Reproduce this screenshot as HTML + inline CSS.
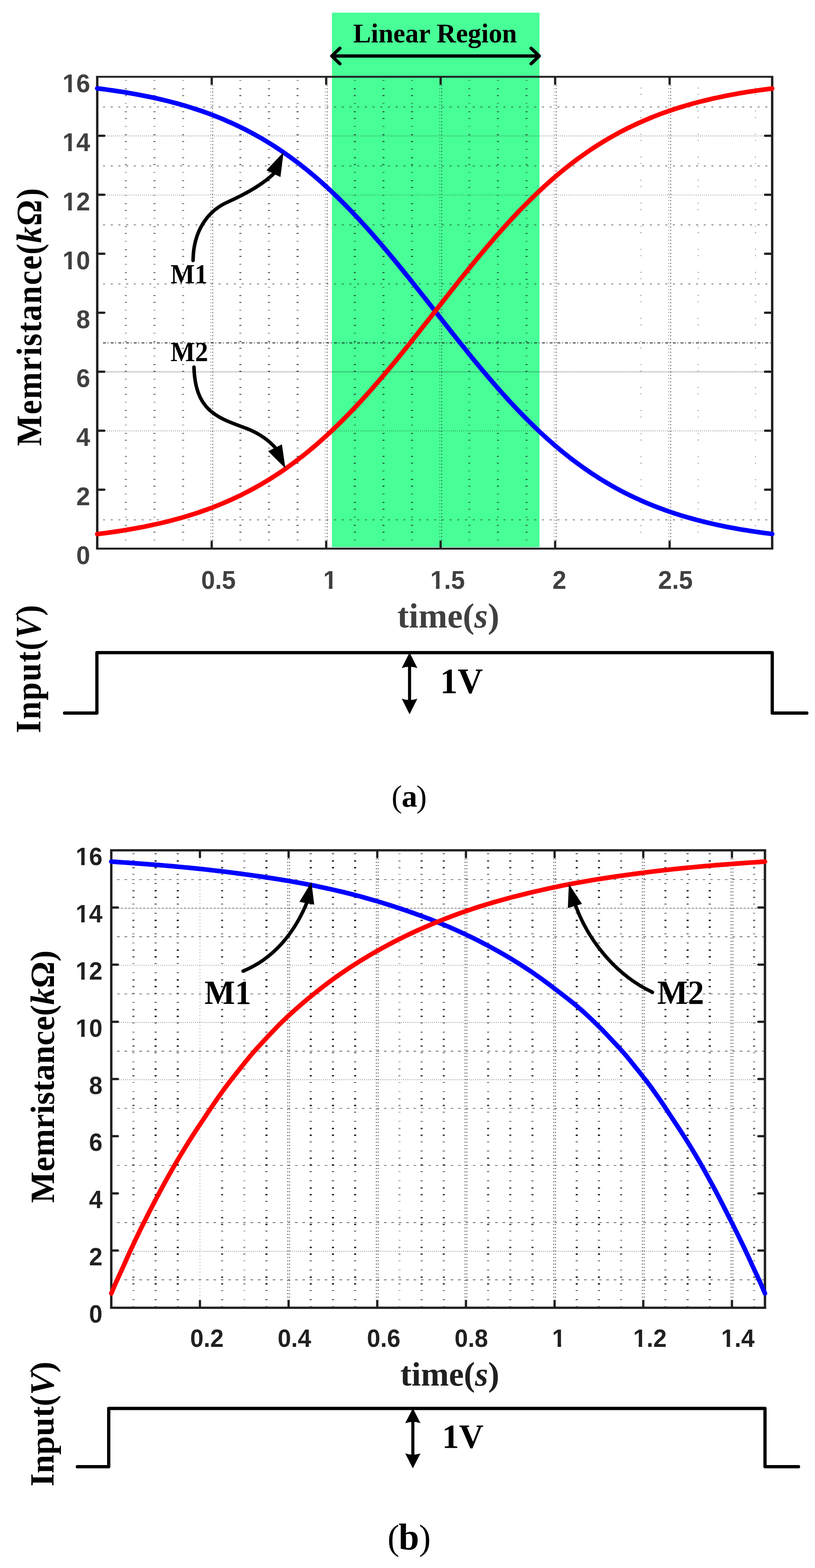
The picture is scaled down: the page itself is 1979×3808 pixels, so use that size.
<!DOCTYPE html>
<html lang="en"><head><meta charset="utf-8"><title>Memristance versus time</title>
<style>html,body{margin:0;padding:0;background:#fff}body{width:1979px;height:3808px;overflow:hidden}svg{display:block}text{white-space:pre}</style>
</head><body>
<svg width="1979" height="3808" viewBox="0 0 1979 3808" role="img" aria-label="Memristance of M1 and M2 versus time for two window functions">
<rect x="0" y="0" width="1979" height="3808" fill="#fff"/>
<!-- plot a -->
<rect x="806" y="30.8" width="504.0" height="1298.0" fill="#47ff96"/>
<g>
<line x1="305.6" y1="194.5" x2="305.6" y2="1329.4" stroke="#1a1a1a" stroke-width="5.0" stroke-dasharray="2.3 14.2 2.3 17.2 1.3 18.5" stroke-dashoffset="-20.0" opacity="0.62"/>
<line x1="375.1" y1="194.5" x2="375.1" y2="1329.4" stroke="#1a1a1a" stroke-width="5.0" stroke-dasharray="2.3 14.2 2.3 17.2 1.3 18.5" stroke-dashoffset="-20.0" opacity="0.68"/>
<line x1="444.6" y1="194.5" x2="444.6" y2="1329.4" stroke="#1a1a1a" stroke-width="5.0" stroke-dasharray="2.3 14.2 2.3 17.2 1.3 18.5" stroke-dashoffset="-20.0" opacity="0.62"/>
<line x1="511.7" y1="206.5" x2="511.7" y2="1314.4" stroke="#222" stroke-width="1.6" stroke-dasharray="1.5 6.5" opacity="0.8"/>
<line x1="516.5" y1="206.5" x2="516.5" y2="1314.4" stroke="#222" stroke-width="2.6" stroke-dasharray="2 6" opacity="0.8"/>
<line x1="583.6" y1="194.5" x2="583.6" y2="1329.4" stroke="#1a1a1a" stroke-width="5.0" stroke-dasharray="2.3 14.2 2.3 17.2 1.3 18.5" stroke-dashoffset="-20.0" opacity="0.78"/>
<line x1="653.1" y1="194.5" x2="653.1" y2="1329.4" stroke="#1a1a1a" stroke-width="5.0" stroke-dasharray="2.3 14.2 2.3 17.2 1.3 18.5" stroke-dashoffset="-20.0" opacity="0.78"/>
<line x1="722.6" y1="194.5" x2="722.6" y2="1329.4" stroke="#1a1a1a" stroke-width="5.0" stroke-dasharray="2.3 14.2 2.3 17.2 1.3 18.5" stroke-dashoffset="-20.0" opacity="0.82"/>
<line x1="789.7" y1="206.5" x2="789.7" y2="1314.4" stroke="#222" stroke-width="1.6" stroke-dasharray="1.5 6.5" opacity="0.8"/>
<line x1="794.5" y1="206.5" x2="794.5" y2="1314.4" stroke="#222" stroke-width="2.6" stroke-dasharray="2 6" opacity="0.8"/>
<line x1="861.6" y1="194.5" x2="861.6" y2="1329.4" stroke="#1a1a1a" stroke-width="5.0" stroke-dasharray="2.3 14.2 2.3 17.2 1.3 18.5" stroke-dashoffset="-20.0" opacity="0.8"/>
<line x1="931.1" y1="194.5" x2="931.1" y2="1329.4" stroke="#1a1a1a" stroke-width="5.0" stroke-dasharray="2.3 14.2 2.3 17.2 1.3 18.5" stroke-dashoffset="-20.0" opacity="0.8"/>
<line x1="1000.5" y1="194.5" x2="1000.5" y2="1329.4" stroke="#1a1a1a" stroke-width="5.0" stroke-dasharray="2.3 14.2 2.3 17.2 1.3 18.5" stroke-dashoffset="-20.0" opacity="0.8"/>
<line x1="1067.6" y1="206.5" x2="1067.6" y2="1314.4" stroke="#222" stroke-width="1.6" stroke-dasharray="1.5 6.5" opacity="0.8"/>
<line x1="1072.4" y1="206.5" x2="1072.4" y2="1314.4" stroke="#222" stroke-width="2.6" stroke-dasharray="2 6" opacity="0.8"/>
<line x1="1139.5" y1="194.5" x2="1139.5" y2="1329.4" stroke="#1a1a1a" stroke-width="5.0" stroke-dasharray="2.3 14.2 2.3 17.2 1.3 18.5" stroke-dashoffset="-20.0" opacity="0.6"/>
<line x1="1209.0" y1="194.5" x2="1209.0" y2="1329.4" stroke="#1a1a1a" stroke-width="5.0" stroke-dasharray="2.3 14.2 2.3 17.2 1.3 18.5" stroke-dashoffset="-20.0" opacity="0.7"/>
<line x1="1278.5" y1="194.5" x2="1278.5" y2="1329.4" stroke="#1a1a1a" stroke-width="5.0" stroke-dasharray="2.3 14.2 2.3 17.2 1.3 18.5" stroke-dashoffset="-20.0" opacity="0.7"/>
<line x1="1345.6" y1="206.5" x2="1345.6" y2="1314.4" stroke="#222" stroke-width="1.6" stroke-dasharray="1.5 6.5" opacity="0.8"/>
<line x1="1350.4" y1="206.5" x2="1350.4" y2="1314.4" stroke="#222" stroke-width="2.6" stroke-dasharray="2 6" opacity="0.8"/>
<line x1="1556.5" y1="194.5" x2="1556.5" y2="1329.4" stroke="#1a1a1a" stroke-width="2.2" stroke-dasharray="1.6 14 1.6 38.75" stroke-dashoffset="-18.5" opacity="0.7"/>
<line x1="1623.6" y1="206.5" x2="1623.6" y2="1314.4" stroke="#222" stroke-width="1.6" stroke-dasharray="1.5 6.5" opacity="0.8"/>
<line x1="1628.4" y1="206.5" x2="1628.4" y2="1314.4" stroke="#222" stroke-width="2.6" stroke-dasharray="2 6" opacity="0.8"/>
<line x1="1695.5" y1="194.5" x2="1695.5" y2="1329.4" stroke="#1a1a1a" stroke-width="2.2" stroke-dasharray="1.6 14 1.6 38.75" stroke-dashoffset="-18.5" opacity="0.7"/>
<line x1="1834.5" y1="194.5" x2="1834.5" y2="1329.4" stroke="#1a1a1a" stroke-width="2.2" stroke-dasharray="1.6 14 1.6 38.75" stroke-dashoffset="-18.5" opacity="0.7"/>
<line x1="250.1" y1="259.8" x2="1872.0" y2="259.8" stroke="#1a1a1a" stroke-width="1.4" stroke-dasharray="5 13.7" stroke-dashoffset="0" opacity="0.8"/>
<line x1="250.1" y1="330.3" x2="1872.0" y2="330.3" stroke="#1a1a1a" stroke-width="1.4" stroke-dasharray="1.5 3.5" stroke-dashoffset="0" opacity="0.8"/>
<line x1="250.1" y1="403.0" x2="1872.0" y2="403.0" stroke="#1a1a1a" stroke-width="1.4" stroke-dasharray="5 13.7" stroke-dashoffset="0" opacity="0.8"/>
<line x1="250.1" y1="473.6" x2="1872.0" y2="473.6" stroke="#1a1a1a" stroke-width="1.4" stroke-dasharray="1.5 3.5" stroke-dashoffset="0" opacity="0.8"/>
<line x1="250.1" y1="546.3" x2="1872.0" y2="546.3" stroke="#1a1a1a" stroke-width="1.4" stroke-dasharray="5 13.7" stroke-dashoffset="0" opacity="0.8"/>
<line x1="250.1" y1="689.5" x2="1872.0" y2="689.5" stroke="#1a1a1a" stroke-width="1.4" stroke-dasharray="5 13.7" stroke-dashoffset="0" opacity="0.8"/>
<line x1="250.1" y1="832.8" x2="1872.0" y2="832.8" stroke="#1a1a1a" stroke-width="2.0" stroke-dasharray="7 4 2 5.7" stroke-dashoffset="0" opacity="1.0"/>
<line x1="250.1" y1="903.3" x2="1872.0" y2="903.3" stroke="#1a1a1a" stroke-width="1.6" stroke-dasharray="2 2" stroke-dashoffset="0" opacity="0.8"/>
<line x1="250.1" y1="1046.5" x2="1872.0" y2="1046.5" stroke="#1a1a1a" stroke-width="1.4" stroke-dasharray="1.5 3.5" stroke-dashoffset="0" opacity="0.8"/>
<line x1="250.1" y1="1262.5" x2="1872.0" y2="1262.5" stroke="#1a1a1a" stroke-width="1.4" stroke-dasharray="5 13.7" stroke-dashoffset="0" opacity="0.8"/>
</g>
<g stroke="#202020" fill="none" stroke-linecap="butt">
<line x1="233.2" y1="186.5" x2="1877.9" y2="186.5" stroke-width="4.7"/>
<line x1="233.2" y1="1332.4" x2="1877.9" y2="1332.4" stroke-width="4.7"/>
<line x1="236.1" y1="186.5" x2="236.1" y2="1332.4" stroke-width="5.8"/>
<line x1="1875.0" y1="186.5" x2="1875.0" y2="1332.4" stroke-width="5.8"/>
</g>
<g stroke="#202020" stroke-width="5.5" stroke-linecap="round">
<line x1="514.1" y1="1331.1" x2="514.1" y2="1315.4"/>
<line x1="514.1" y1="187.8" x2="514.1" y2="203.5"/>
<line x1="792.1" y1="1331.1" x2="792.1" y2="1315.4"/>
<line x1="792.1" y1="187.8" x2="792.1" y2="203.5"/>
<line x1="1070.0" y1="1331.1" x2="1070.0" y2="1315.4"/>
<line x1="1070.0" y1="187.8" x2="1070.0" y2="203.5"/>
<line x1="1348.0" y1="1331.1" x2="1348.0" y2="1315.4"/>
<line x1="1348.0" y1="187.8" x2="1348.0" y2="203.5"/>
<line x1="1626.0" y1="1331.1" x2="1626.0" y2="1315.4"/>
<line x1="1626.0" y1="187.8" x2="1626.0" y2="203.5"/>
<line x1="237.4" y1="1189.2" x2="253.3" y2="1189.2"/>
<line x1="1873.7" y1="1189.2" x2="1857.8" y2="1189.2"/>
<line x1="237.4" y1="1045.9" x2="253.3" y2="1045.9"/>
<line x1="1873.7" y1="1045.9" x2="1857.8" y2="1045.9"/>
<line x1="237.4" y1="902.7" x2="253.3" y2="902.7"/>
<line x1="1873.7" y1="902.7" x2="1857.8" y2="902.7"/>
<line x1="237.4" y1="759.4" x2="253.3" y2="759.4"/>
<line x1="1873.7" y1="759.4" x2="1857.8" y2="759.4"/>
<line x1="237.4" y1="616.2" x2="253.3" y2="616.2"/>
<line x1="1873.7" y1="616.2" x2="1857.8" y2="616.2"/>
<line x1="237.4" y1="473.0" x2="253.3" y2="473.0"/>
<line x1="1873.7" y1="473.0" x2="1857.8" y2="473.0"/>
<line x1="237.4" y1="329.7" x2="253.3" y2="329.7"/>
<line x1="1873.7" y1="329.7" x2="1857.8" y2="329.7"/>
</g>
<path d="M236.1 214.6 L246.3 215.9 L256.6 217.3 L266.8 218.7 L277.1 220.1 L287.3 221.7 L297.6 223.3 L307.8 224.9 L318.0 226.7 L328.3 228.5 L338.5 230.4 L348.8 232.4 L359.0 234.4 L369.3 236.6 L379.5 238.8 L389.7 241.2 L400.0 243.6 L410.2 246.1 L420.5 248.8 L430.7 251.5 L441.0 254.4 L451.2 257.4 L461.4 260.5 L471.7 263.8 L481.9 267.1 L492.2 270.6 L502.4 274.3 L512.7 278.1 L522.9 282.0 L533.2 286.1 L543.4 290.3 L553.6 294.8 L563.9 299.3 L574.1 304.1 L584.4 309.0 L594.6 314.1 L604.9 319.4 L615.1 324.9 L625.3 330.6 L635.6 336.4 L645.8 342.5 L656.1 348.8 L666.3 355.3 L676.6 362.0 L686.8 368.9 L697.0 376.1 L707.3 383.4 L717.5 391.0 L727.8 398.8 L738.0 406.9 L748.3 415.1 L758.5 423.6 L768.7 432.3 L779.0 441.3 L789.2 450.5 L799.5 459.9 L809.7 469.6 L820.0 479.4 L830.2 489.5 L840.4 499.8 L850.7 510.4 L860.9 521.1 L871.2 532.0 L881.4 543.2 L891.7 554.5 L901.9 566.0 L912.1 577.7 L922.4 589.6 L932.6 601.6 L942.9 613.8 L953.1 626.1 L963.4 638.6 L973.6 651.1 L983.8 663.8 L994.1 676.6 L1004.3 689.4 L1014.6 702.3 L1024.8 715.3 L1035.1 728.3 L1045.3 741.3 L1055.6 754.4 L1065.8 767.5 L1076.0 780.5 L1086.3 793.5 L1096.5 806.5 L1106.8 819.4 L1117.0 832.3 L1127.3 845.1 L1137.5 857.8 L1147.7 870.4 L1158.0 882.8 L1168.2 895.2 L1178.5 907.4 L1188.7 919.4 L1199.0 931.3 L1209.2 943.1 L1219.4 954.6 L1229.7 966.0 L1239.9 977.2 L1250.2 988.2 L1260.4 999.0 L1270.7 1009.5 L1280.9 1019.9 L1291.1 1030.0 L1301.4 1040.0 L1311.6 1049.7 L1321.9 1059.1 L1332.1 1068.4 L1342.4 1077.4 L1352.6 1086.2 L1362.8 1094.7 L1373.1 1103.0 L1383.3 1111.1 L1393.6 1119.0 L1403.8 1126.6 L1414.1 1134.0 L1424.3 1141.2 L1434.5 1148.2 L1444.8 1154.9 L1455.0 1161.5 L1465.3 1167.8 L1475.5 1173.9 L1485.8 1179.8 L1496.0 1185.6 L1506.2 1191.1 L1516.5 1196.4 L1526.7 1201.6 L1537.0 1206.5 L1547.2 1211.3 L1557.5 1215.9 L1567.7 1220.4 L1577.9 1224.7 L1588.2 1228.8 L1598.4 1232.8 L1608.7 1236.6 L1618.9 1240.3 L1629.2 1243.8 L1639.4 1247.2 L1649.7 1250.5 L1659.9 1253.6 L1670.1 1256.6 L1680.4 1259.5 L1690.6 1262.3 L1700.9 1265.0 L1711.1 1267.6 L1721.4 1270.0 L1731.6 1272.4 L1741.8 1274.7 L1752.1 1276.8 L1762.3 1278.9 L1772.6 1280.9 L1782.8 1282.8 L1793.1 1284.7 L1803.3 1286.4 L1813.5 1288.1 L1823.8 1289.7 L1834.0 1291.3 L1844.3 1292.7 L1854.5 1294.2 L1864.8 1295.5 L1875.0 1296.8" fill="none" stroke="#0000ff" stroke-width="11.2" stroke-linecap="round" stroke-linejoin="round"/>
<path d="M236.1 1297.1 L246.3 1295.8 L256.6 1294.5 L266.8 1293.1 L277.1 1291.6 L287.3 1290.1 L297.6 1288.5 L307.8 1286.8 L318.0 1285.1 L328.3 1283.2 L338.5 1281.3 L348.8 1279.4 L359.0 1277.3 L369.3 1275.1 L379.5 1272.9 L389.7 1270.6 L400.0 1268.1 L410.2 1265.6 L420.5 1262.9 L430.7 1260.2 L441.0 1257.3 L451.2 1254.3 L461.4 1251.2 L471.7 1248.0 L481.9 1244.6 L492.2 1241.1 L502.4 1237.4 L512.7 1233.7 L522.9 1229.7 L533.2 1225.6 L543.4 1221.4 L553.6 1217.0 L563.9 1212.4 L574.1 1207.6 L584.4 1202.7 L594.6 1197.6 L604.9 1192.3 L615.1 1186.8 L625.3 1181.1 L635.6 1175.3 L645.8 1169.2 L656.1 1162.9 L666.3 1156.4 L676.6 1149.7 L686.8 1142.8 L697.0 1135.7 L707.3 1128.3 L717.5 1120.7 L727.8 1112.9 L738.0 1104.9 L748.3 1096.6 L758.5 1088.1 L768.7 1079.4 L779.0 1070.4 L789.2 1061.2 L799.5 1051.8 L809.7 1042.2 L820.0 1032.3 L830.2 1022.2 L840.4 1011.9 L850.7 1001.4 L860.9 990.6 L871.2 979.7 L881.4 968.5 L891.7 957.2 L901.9 945.7 L912.1 934.0 L922.4 922.1 L932.6 910.1 L942.9 897.9 L953.1 885.6 L963.4 873.2 L973.6 860.6 L983.8 847.9 L994.1 835.2 L1004.3 822.3 L1014.6 809.4 L1024.8 796.4 L1035.1 783.4 L1045.3 770.4 L1055.6 757.3 L1065.8 744.3 L1076.0 731.2 L1086.3 718.2 L1096.5 705.2 L1106.8 692.3 L1117.0 679.4 L1127.3 666.6 L1137.5 653.9 L1147.7 641.4 L1158.0 628.9 L1168.2 616.5 L1178.5 604.3 L1188.7 592.3 L1199.0 580.4 L1209.2 568.6 L1219.4 557.1 L1229.7 545.7 L1239.9 534.5 L1250.2 523.5 L1260.4 512.7 L1270.7 502.2 L1280.9 491.8 L1291.1 481.7 L1301.4 471.8 L1311.6 462.1 L1321.9 452.6 L1332.1 443.3 L1342.4 434.3 L1352.6 425.6 L1362.8 417.0 L1373.1 408.7 L1383.3 400.6 L1393.6 392.7 L1403.8 385.1 L1414.1 377.7 L1424.3 370.5 L1434.5 363.5 L1444.8 356.8 L1455.0 350.2 L1465.3 343.9 L1475.5 337.8 L1485.8 331.9 L1496.0 326.2 L1506.2 320.6 L1516.5 315.3 L1526.7 310.1 L1537.0 305.2 L1547.2 300.4 L1557.5 295.8 L1567.7 291.3 L1577.9 287.0 L1588.2 282.9 L1598.4 278.9 L1608.7 275.1 L1618.9 271.4 L1629.2 267.9 L1639.4 264.5 L1649.7 261.2 L1659.9 258.1 L1670.1 255.1 L1680.4 252.2 L1690.6 249.4 L1700.9 246.7 L1711.1 244.2 L1721.4 241.7 L1731.6 239.3 L1741.8 237.1 L1752.1 234.9 L1762.3 232.8 L1772.6 230.8 L1782.8 228.9 L1793.1 227.1 L1803.3 225.3 L1813.5 223.6 L1823.8 222.0 L1834.0 220.5 L1844.3 219.0 L1854.5 217.6 L1864.8 216.2 L1875.0 214.9" fill="none" stroke="#ff0000" stroke-width="11.2" stroke-linecap="round" stroke-linejoin="round"/>
<text transform="translate(219.0 1369.9) scale(1 1.04)" font-family='"Liberation Sans", Arial, Helvetica, sans-serif' font-size="60.5" font-weight="bold" fill="#404040" text-anchor="end" >0</text>
<text transform="translate(219.0 1226.7) scale(1 1.04)" font-family='"Liberation Sans", Arial, Helvetica, sans-serif' font-size="60.5" font-weight="bold" fill="#404040" text-anchor="end" >2</text>
<text transform="translate(219.0 1083.4) scale(1 1.04)" font-family='"Liberation Sans", Arial, Helvetica, sans-serif' font-size="60.5" font-weight="bold" fill="#404040" text-anchor="end" >4</text>
<text transform="translate(219.0 940.2) scale(1 1.04)" font-family='"Liberation Sans", Arial, Helvetica, sans-serif' font-size="60.5" font-weight="bold" fill="#404040" text-anchor="end" >6</text>
<text transform="translate(219.0 796.9) scale(1 1.04)" font-family='"Liberation Sans", Arial, Helvetica, sans-serif' font-size="60.5" font-weight="bold" fill="#404040" text-anchor="end" >8</text>
<clipPath id="c1" clipPathUnits="userSpaceOnUse"><path d="M-71.29 -60.50 H4.00 V6.00 H-34.53 V-8.17 H-44.70 V6.00 H-53.41 V-8.17 H-71.29 Z"/></clipPath>
<text transform="translate(219.0 653.7) scale(1 1.04)" font-family='"Liberation Sans", Arial, Helvetica, sans-serif' font-size="60.5" font-weight="bold" fill="#404040" text-anchor="end" clip-path="url(#c1)">10</text>
<clipPath id="c2" clipPathUnits="userSpaceOnUse"><path d="M-71.29 -60.50 H4.00 V6.00 H-34.53 V-8.17 H-44.70 V6.00 H-53.41 V-8.17 H-71.29 Z"/></clipPath>
<text transform="translate(219.0 510.5) scale(1 1.04)" font-family='"Liberation Sans", Arial, Helvetica, sans-serif' font-size="60.5" font-weight="bold" fill="#404040" text-anchor="end" clip-path="url(#c2)">12</text>
<clipPath id="c3" clipPathUnits="userSpaceOnUse"><path d="M-71.29 -60.50 H4.00 V6.00 H-34.53 V-8.17 H-44.70 V6.00 H-53.41 V-8.17 H-71.29 Z"/></clipPath>
<text transform="translate(219.0 367.2) scale(1 1.04)" font-family='"Liberation Sans", Arial, Helvetica, sans-serif' font-size="60.5" font-weight="bold" fill="#404040" text-anchor="end" clip-path="url(#c3)">14</text>
<clipPath id="c4" clipPathUnits="userSpaceOnUse"><path d="M-71.29 -60.50 H4.00 V6.00 H-34.53 V-8.17 H-44.70 V6.00 H-53.41 V-8.17 H-71.29 Z"/></clipPath>
<text transform="translate(219.0 224.0) scale(1 1.04)" font-family='"Liberation Sans", Arial, Helvetica, sans-serif' font-size="60.5" font-weight="bold" fill="#404040" text-anchor="end" clip-path="url(#c4)">16</text>
<text transform="translate(488.4 1429.8) scale(1 1.04)" font-family='"Liberation Sans", Arial, Helvetica, sans-serif' font-size="60.5" font-weight="bold" fill="#404040" text-anchor="start" >0.5</text>
<clipPath id="c5" clipPathUnits="userSpaceOnUse"><path d="M-4.00 -60.50 H37.65 V6.00 H32.76 V-8.17 H22.60 V6.00 H13.88 V-8.17 H-4.00 Z"/></clipPath>
<text transform="translate(784.7 1429.8) scale(1 1.04)" font-family='"Liberation Sans", Arial, Helvetica, sans-serif' font-size="60.5" font-weight="bold" fill="#404040" text-anchor="start" clip-path="url(#c5)">1</text>
<clipPath id="c6" clipPathUnits="userSpaceOnUse"><path d="M-4.00 -60.50 H88.10 V6.00 H32.76 V-8.17 H22.60 V6.00 H13.88 V-8.17 H-4.00 Z"/></clipPath>
<text transform="translate(1044.7 1429.8) scale(1 1.04)" font-family='"Liberation Sans", Arial, Helvetica, sans-serif' font-size="60.5" font-weight="bold" fill="#404040" text-anchor="start" clip-path="url(#c6)">1.5</text>
<text transform="translate(1341.5 1429.8) scale(1 1.04)" font-family='"Liberation Sans", Arial, Helvetica, sans-serif' font-size="60.5" font-weight="bold" fill="#404040" text-anchor="start" >2</text>
<text transform="translate(1598.1 1429.8) scale(1 1.04)" font-family='"Liberation Sans", Arial, Helvetica, sans-serif' font-size="60.5" font-weight="bold" fill="#404040" text-anchor="start" >2.5</text>
<text transform="translate(964.8 1523.7) scale(1 1.011)" font-family='"Liberation Serif", "Times New Roman", Times, serif' font-size="84.2" font-weight="bold" fill="#404040" text-anchor="start" >time(<tspan font-style="italic">s</tspan>)</text>
<text transform="translate(99.8 1083.0) rotate(-90) scale(0.93 1.011)" font-family='"Liberation Serif", "Times New Roman", Times, serif' font-size="85" font-weight="bold" fill="#000" text-anchor="start" letter-spacing="2.1" >Memristance(<tspan font-style="italic">k</tspan>Ω)</text>
<text transform="translate(97.8 1780.5) rotate(-90) scale(0.93 1.011)" font-family='"Liberation Serif", "Times New Roman", Times, serif' font-size="85" font-weight="bold" fill="#000" text-anchor="start" letter-spacing="2.6" >Input(<tspan font-style="italic">V</tspan>)</text>
<text transform="translate(857.5 102.5) scale(1 1.02)" font-family='"Liberation Serif", "Times New Roman", Times, serif' font-size="65" font-weight="bold" fill="#000" text-anchor="start" >Linear Region</text>
<g stroke="#000" stroke-width="8" fill="none" stroke-linecap="round" stroke-linejoin="round">
<path d="M806 136 H1309"/>
<path d="M825.3 117.2 L805.8 136 L825.3 154.8"/>
<path d="M1289.7 117.2 L1309.2 136 L1289.7 154.8"/>
</g>
<text transform="translate(414.0 688.3) scale(0.93 1.011)" font-family='"Liberation Serif", "Times New Roman", Times, serif' font-size="67" font-weight="bold" fill="#000" text-anchor="start" >M1</text>
<text transform="translate(414.0 877.1) scale(0.96 1.011)" font-family='"Liberation Serif", "Times New Roman", Times, serif' font-size="66" font-weight="bold" fill="#000" text-anchor="start" >M2</text>
<path d="M468.8 632.5 C469.5 560 505 512 553 490.6 C593 472.8 640 447 667 419.5" fill="none" stroke="#000" stroke-width="8.6" stroke-linecap="round"/>
<polygon points="688.5,369.3 647.0,413.5 681.0,430.0" fill="#000"/>
<path d="M471 891.5 C474 1000 530 1015 600 1041 C630 1053 652 1068 671 1090" fill="none" stroke="#000" stroke-width="8.6" stroke-linecap="round"/>
<polygon points="693.0,1137.6 651.0,1095.8 684.6,1079.3" fill="#000"/>
<path d="M156.8 1731.8 H235.3 V1585 H1875.2 V1731.8 H1959.2" fill="none" stroke="#000" stroke-width="7.9" stroke-linecap="round" stroke-linejoin="round"/>
<line x1="994.5" y1="1594.5" x2="994.5" y2="1724.8" stroke="#000" stroke-width="7.5"/>
<path d="M994.5 1584.5 L1013.5 1622.5 Q1004.0 1619.0 994.5 1619.0 Q985.0 1619.0 975.5 1622.5 Z" fill="#000"/>
<path d="M994.5 1734.8 L1013.5 1696.8 Q1004.0 1700.3 994.5 1700.3 Q985.0 1700.3 975.5 1696.8 Z" fill="#000"/>
<text transform="translate(1068.8 1682.8) scale(1 1.011)" font-family='"Liberation Serif", "Times New Roman", Times, serif' font-size="85" font-weight="bold" fill="#000" text-anchor="start" >1V</text>
<text font-family='"Liberation Serif", "Times New Roman", Times, serif' fill="#000"><tspan x="950.7" y="1959.8" font-size="76.2">(</tspan><tspan x="975.3" y="1959.3" font-size="76" font-weight="bold">a</tspan><tspan x="1010.9" y="1959.8" font-size="76.2">)</tspan></text>
<!-- plot b -->
<g>
<line x1="324.0" y1="2089.2" x2="324.0" y2="3172.9" stroke="#1a1a1a" stroke-width="5" stroke-dasharray="3.4 12.9 3.4 52.5" opacity="0.7"/>
<line x1="324.0" y1="2072.6" x2="324.0" y2="3172.9" stroke="#1a1a1a" stroke-width="5.4" stroke-dasharray="1.6 48.4 1.6 20.6" opacity="0.7"/>
<line x1="377.9" y1="2089.2" x2="377.9" y2="3172.9" stroke="#1a1a1a" stroke-width="5" stroke-dasharray="3.4 12.9 3.4 52.5" opacity="1"/>
<line x1="377.9" y1="2072.6" x2="377.9" y2="3172.9" stroke="#1a1a1a" stroke-width="5.4" stroke-dasharray="1.6 48.4 1.6 20.6" opacity="1"/>
<line x1="431.7" y1="2089.2" x2="431.7" y2="3172.9" stroke="#1a1a1a" stroke-width="5" stroke-dasharray="3.4 12.9 3.4 52.5" opacity="1"/>
<line x1="431.7" y1="2072.6" x2="431.7" y2="3172.9" stroke="#1a1a1a" stroke-width="5.4" stroke-dasharray="1.6 48.4 1.6 20.6" opacity="1"/>
<line x1="485.5" y1="2073.0" x2="485.5" y2="3172.9" stroke="#333" stroke-width="1.6" stroke-dasharray="1.5 6.5" stroke-dashoffset="0" opacity="0.7"/>
<line x1="539.3" y1="2089.2" x2="539.3" y2="3172.9" stroke="#1a1a1a" stroke-width="5" stroke-dasharray="3.4 12.9 3.4 52.5" opacity="0.85"/>
<line x1="539.3" y1="2072.6" x2="539.3" y2="3172.9" stroke="#1a1a1a" stroke-width="5.4" stroke-dasharray="1.6 48.4 1.6 20.6" opacity="0.85"/>
<line x1="593.2" y1="2089.2" x2="593.2" y2="3172.9" stroke="#1a1a1a" stroke-width="5" stroke-dasharray="3.4 12.9 3.4 52.5" opacity="0.45"/>
<line x1="593.2" y1="2072.6" x2="593.2" y2="3172.9" stroke="#1a1a1a" stroke-width="5.4" stroke-dasharray="1.6 48.4 1.6 20.6" opacity="0.45"/>
<line x1="647.0" y1="2089.2" x2="647.0" y2="3172.9" stroke="#1a1a1a" stroke-width="5" stroke-dasharray="3.4 12.9 3.4 52.5" opacity="1"/>
<line x1="647.0" y1="2072.6" x2="647.0" y2="3172.9" stroke="#1a1a1a" stroke-width="5.4" stroke-dasharray="1.6 48.4 1.6 20.6" opacity="1"/>
<line x1="698.6" y1="2085.0" x2="698.6" y2="3157.9" stroke="#222" stroke-width="2.4" stroke-dasharray="2 6" opacity="0.85"/>
<line x1="703.0" y1="2085.0" x2="703.0" y2="3157.9" stroke="#222" stroke-width="2.4" stroke-dasharray="2 6" opacity="0.85"/>
<line x1="754.6" y1="2089.2" x2="754.6" y2="3172.9" stroke="#1a1a1a" stroke-width="5" stroke-dasharray="3.4 12.9 3.4 52.5" opacity="1"/>
<line x1="754.6" y1="2072.6" x2="754.6" y2="3172.9" stroke="#1a1a1a" stroke-width="5.4" stroke-dasharray="1.6 48.4 1.6 20.6" opacity="1"/>
<line x1="808.5" y1="2089.2" x2="808.5" y2="3172.9" stroke="#1a1a1a" stroke-width="5" stroke-dasharray="3.4 12.9 3.4 52.5" opacity="1"/>
<line x1="808.5" y1="2072.6" x2="808.5" y2="3172.9" stroke="#1a1a1a" stroke-width="5.4" stroke-dasharray="1.6 48.4 1.6 20.6" opacity="1"/>
<line x1="862.3" y1="2089.2" x2="862.3" y2="3172.9" stroke="#1a1a1a" stroke-width="5" stroke-dasharray="3.4 12.9 3.4 52.5" opacity="1"/>
<line x1="862.3" y1="2072.6" x2="862.3" y2="3172.9" stroke="#1a1a1a" stroke-width="5.4" stroke-dasharray="1.6 48.4 1.6 20.6" opacity="1"/>
<line x1="913.9" y1="2085.0" x2="913.9" y2="3157.9" stroke="#222" stroke-width="2.4" stroke-dasharray="2 6" opacity="0.85"/>
<line x1="918.3" y1="2085.0" x2="918.3" y2="3157.9" stroke="#222" stroke-width="2.4" stroke-dasharray="2 6" opacity="0.85"/>
<line x1="969.9" y1="2089.2" x2="969.9" y2="3172.9" stroke="#1a1a1a" stroke-width="5" stroke-dasharray="3.4 12.9 3.4 52.5" opacity="0.45"/>
<line x1="969.9" y1="2072.6" x2="969.9" y2="3172.9" stroke="#1a1a1a" stroke-width="5.4" stroke-dasharray="1.6 48.4 1.6 20.6" opacity="0.45"/>
<line x1="1023.8" y1="2089.2" x2="1023.8" y2="3172.9" stroke="#1a1a1a" stroke-width="5" stroke-dasharray="3.4 12.9 3.4 52.5" opacity="0.85"/>
<line x1="1023.8" y1="2072.6" x2="1023.8" y2="3172.9" stroke="#1a1a1a" stroke-width="5.4" stroke-dasharray="1.6 48.4 1.6 20.6" opacity="0.85"/>
<line x1="1077.6" y1="2089.2" x2="1077.6" y2="3172.9" stroke="#1a1a1a" stroke-width="5" stroke-dasharray="3.4 12.9 3.4 52.5" opacity="0.85"/>
<line x1="1077.6" y1="2072.6" x2="1077.6" y2="3172.9" stroke="#1a1a1a" stroke-width="5.4" stroke-dasharray="1.6 48.4 1.6 20.6" opacity="0.85"/>
<line x1="1129.2" y1="2085.0" x2="1129.2" y2="3157.9" stroke="#222" stroke-width="2.4" stroke-dasharray="2 6" opacity="0.85"/>
<line x1="1133.6" y1="2085.0" x2="1133.6" y2="3157.9" stroke="#222" stroke-width="2.4" stroke-dasharray="2 6" opacity="0.85"/>
<line x1="1185.2" y1="2089.2" x2="1185.2" y2="3172.9" stroke="#1a1a1a" stroke-width="5" stroke-dasharray="3.4 12.9 3.4 52.5" opacity="0.85"/>
<line x1="1185.2" y1="2072.6" x2="1185.2" y2="3172.9" stroke="#1a1a1a" stroke-width="5.4" stroke-dasharray="1.6 48.4 1.6 20.6" opacity="0.85"/>
<line x1="1239.0" y1="2089.2" x2="1239.0" y2="3172.9" stroke="#1a1a1a" stroke-width="5" stroke-dasharray="3.4 12.9 3.4 52.5" opacity="0.85"/>
<line x1="1239.0" y1="2072.6" x2="1239.0" y2="3172.9" stroke="#1a1a1a" stroke-width="5.4" stroke-dasharray="1.6 48.4 1.6 20.6" opacity="0.85"/>
<line x1="1292.9" y1="2089.2" x2="1292.9" y2="3172.9" stroke="#1a1a1a" stroke-width="5" stroke-dasharray="3.4 12.9 3.4 52.5" opacity="0.85"/>
<line x1="1292.9" y1="2072.6" x2="1292.9" y2="3172.9" stroke="#1a1a1a" stroke-width="5.4" stroke-dasharray="1.6 48.4 1.6 20.6" opacity="0.85"/>
<line x1="1344.5" y1="2085.0" x2="1344.5" y2="3157.9" stroke="#222" stroke-width="2.4" stroke-dasharray="2 6" opacity="0.85"/>
<line x1="1348.9" y1="2085.0" x2="1348.9" y2="3157.9" stroke="#222" stroke-width="2.4" stroke-dasharray="2 6" opacity="0.85"/>
<line x1="1400.5" y1="2089.2" x2="1400.5" y2="3172.9" stroke="#1a1a1a" stroke-width="5" stroke-dasharray="3.4 12.9 3.4 52.5" opacity="1"/>
<line x1="1400.5" y1="2072.6" x2="1400.5" y2="3172.9" stroke="#1a1a1a" stroke-width="5.4" stroke-dasharray="1.6 48.4 1.6 20.6" opacity="1"/>
<line x1="1454.4" y1="2089.2" x2="1454.4" y2="3172.9" stroke="#1a1a1a" stroke-width="5" stroke-dasharray="3.4 12.9 3.4 52.5" opacity="1"/>
<line x1="1454.4" y1="2072.6" x2="1454.4" y2="3172.9" stroke="#1a1a1a" stroke-width="5.4" stroke-dasharray="1.6 48.4 1.6 20.6" opacity="1"/>
<line x1="1508.2" y1="2089.2" x2="1508.2" y2="3172.9" stroke="#1a1a1a" stroke-width="5" stroke-dasharray="3.4 12.9 3.4 52.5" opacity="0.7"/>
<line x1="1508.2" y1="2072.6" x2="1508.2" y2="3172.9" stroke="#1a1a1a" stroke-width="5.4" stroke-dasharray="1.6 48.4 1.6 20.6" opacity="0.7"/>
<line x1="1559.8" y1="2085.0" x2="1559.8" y2="3157.9" stroke="#222" stroke-width="2.4" stroke-dasharray="2 6" opacity="0.85"/>
<line x1="1564.2" y1="2085.0" x2="1564.2" y2="3157.9" stroke="#222" stroke-width="2.4" stroke-dasharray="2 6" opacity="0.85"/>
<line x1="1615.8" y1="2089.2" x2="1615.8" y2="3172.9" stroke="#1a1a1a" stroke-width="5" stroke-dasharray="3.4 12.9 3.4 52.5" opacity="0.85"/>
<line x1="1615.8" y1="2072.6" x2="1615.8" y2="3172.9" stroke="#1a1a1a" stroke-width="5.4" stroke-dasharray="1.6 48.4 1.6 20.6" opacity="0.85"/>
<line x1="1669.7" y1="2089.2" x2="1669.7" y2="3172.9" stroke="#1a1a1a" stroke-width="5" stroke-dasharray="3.4 12.9 3.4 52.5" opacity="1"/>
<line x1="1669.7" y1="2072.6" x2="1669.7" y2="3172.9" stroke="#1a1a1a" stroke-width="5.4" stroke-dasharray="1.6 48.4 1.6 20.6" opacity="1"/>
<line x1="1723.5" y1="2089.2" x2="1723.5" y2="3172.9" stroke="#1a1a1a" stroke-width="5" stroke-dasharray="3.4 12.9 3.4 52.5" opacity="1"/>
<line x1="1723.5" y1="2072.6" x2="1723.5" y2="3172.9" stroke="#1a1a1a" stroke-width="5.4" stroke-dasharray="1.6 48.4 1.6 20.6" opacity="1"/>
<line x1="1775.1" y1="2085.0" x2="1775.1" y2="3157.9" stroke="#222" stroke-width="2.4" stroke-dasharray="2 6" opacity="0.85"/>
<line x1="1779.5" y1="2085.0" x2="1779.5" y2="3157.9" stroke="#222" stroke-width="2.4" stroke-dasharray="2 6" opacity="0.85"/>
<line x1="1831.1" y1="2089.2" x2="1831.1" y2="3172.9" stroke="#1a1a1a" stroke-width="5" stroke-dasharray="3.4 12.9 3.4 52.5" opacity="0.7"/>
<line x1="1831.1" y1="2072.6" x2="1831.1" y2="3172.9" stroke="#1a1a1a" stroke-width="5.4" stroke-dasharray="1.6 48.4 1.6 20.6" opacity="0.7"/>
<line x1="284.2" y1="2136.1" x2="1854.5" y2="2136.1" stroke="#1a1a1a" stroke-width="1.4" stroke-dasharray="6.5 11.5" stroke-dashoffset="0" opacity="0.85"/>
<line x1="284.2" y1="2205.6" x2="1854.5" y2="2205.6" stroke="#1a1a1a" stroke-width="1.3" stroke-dasharray="6 3" stroke-dashoffset="0" opacity="0.8"/>
<line x1="284.2" y1="2275.0" x2="1854.5" y2="2275.0" stroke="#1a1a1a" stroke-width="1.4" stroke-dasharray="6.5 11.5" stroke-dashoffset="0" opacity="0.85"/>
<line x1="284.2" y1="2344.4" x2="1854.5" y2="2344.4" stroke="#1a1a1a" stroke-width="1.4" stroke-dasharray="1.6 3.4" stroke-dashoffset="0" opacity="0.75"/>
<line x1="284.2" y1="2413.9" x2="1854.5" y2="2413.9" stroke="#1a1a1a" stroke-width="1.4" stroke-dasharray="6.5 11.5" stroke-dashoffset="0" opacity="0.85"/>
<line x1="284.2" y1="2483.3" x2="1854.5" y2="2483.3" stroke="#1a1a1a" stroke-width="1.4" stroke-dasharray="1.6 3.4" stroke-dashoffset="0" opacity="0.75"/>
<line x1="284.2" y1="2552.7" x2="1854.5" y2="2552.7" stroke="#1a1a1a" stroke-width="1.4" stroke-dasharray="6.5 11.5" stroke-dashoffset="0" opacity="0.85"/>
<line x1="284.2" y1="2622.2" x2="1854.5" y2="2622.2" stroke="#1a1a1a" stroke-width="1.4" stroke-dasharray="1.6 3.4" stroke-dashoffset="0" opacity="0.75"/>
<line x1="284.2" y1="2691.6" x2="1854.5" y2="2691.6" stroke="#1a1a1a" stroke-width="1.4" stroke-dasharray="6.5 11.5" stroke-dashoffset="0" opacity="0.85"/>
<line x1="284.2" y1="2830.4" x2="1854.5" y2="2830.4" stroke="#1a1a1a" stroke-width="1.4" stroke-dasharray="6.5 11.5" stroke-dashoffset="0" opacity="0.85"/>
<line x1="284.2" y1="2969.3" x2="1854.5" y2="2969.3" stroke="#1a1a1a" stroke-width="1.4" stroke-dasharray="6.5 11.5" stroke-dashoffset="0" opacity="0.85"/>
<line x1="284.2" y1="3038.7" x2="1854.5" y2="3038.7" stroke="#1a1a1a" stroke-width="1.4" stroke-dasharray="1.6 3.4" stroke-dashoffset="0" opacity="0.75"/>
<line x1="284.2" y1="3108.2" x2="1854.5" y2="3108.2" stroke="#1a1a1a" stroke-width="1.4" stroke-dasharray="6.5 11.5" stroke-dashoffset="0" opacity="0.85"/>
</g>
<g stroke="#202020" fill="none" stroke-linecap="butt">
<line x1="267.3" y1="2065.0" x2="1860.4" y2="2065.0" stroke-width="5.5"/>
<line x1="267.3" y1="3175.9" x2="1860.4" y2="3175.9" stroke-width="5.5"/>
<line x1="270.2" y1="2065.0" x2="270.2" y2="3175.9" stroke-width="5.8"/>
<line x1="1857.5" y1="2065.0" x2="1857.5" y2="3175.9" stroke-width="5.8"/>
</g>
<g stroke="#202020" stroke-width="5.5" stroke-linecap="round">
<line x1="485.5" y1="3174.6" x2="485.5" y2="3159.4"/>
<line x1="485.5" y1="2066.3" x2="485.5" y2="2081.5"/>
<line x1="700.8" y1="3174.6" x2="700.8" y2="3159.4"/>
<line x1="700.8" y1="2066.3" x2="700.8" y2="2081.5"/>
<line x1="916.1" y1="3174.6" x2="916.1" y2="3159.4"/>
<line x1="916.1" y1="2066.3" x2="916.1" y2="2081.5"/>
<line x1="1131.4" y1="3174.6" x2="1131.4" y2="3159.4"/>
<line x1="1131.4" y1="2066.3" x2="1131.4" y2="2081.5"/>
<line x1="1346.7" y1="3174.6" x2="1346.7" y2="3159.4"/>
<line x1="1346.7" y1="2066.3" x2="1346.7" y2="2081.5"/>
<line x1="1562.0" y1="3174.6" x2="1562.0" y2="3159.4"/>
<line x1="1562.0" y1="2066.3" x2="1562.0" y2="2081.5"/>
<line x1="1777.3" y1="3174.6" x2="1777.3" y2="3159.4"/>
<line x1="1777.3" y1="2066.3" x2="1777.3" y2="2081.5"/>
<line x1="271.5" y1="3037.0" x2="286.1" y2="3037.0"/>
<line x1="1856.2" y1="3037.0" x2="1841.6" y2="3037.0"/>
<line x1="271.5" y1="2898.2" x2="286.1" y2="2898.2"/>
<line x1="1856.2" y1="2898.2" x2="1841.6" y2="2898.2"/>
<line x1="271.5" y1="2759.3" x2="286.1" y2="2759.3"/>
<line x1="1856.2" y1="2759.3" x2="1841.6" y2="2759.3"/>
<line x1="271.5" y1="2620.5" x2="286.1" y2="2620.5"/>
<line x1="1856.2" y1="2620.5" x2="1841.6" y2="2620.5"/>
<line x1="271.5" y1="2481.6" x2="286.1" y2="2481.6"/>
<line x1="1856.2" y1="2481.6" x2="1841.6" y2="2481.6"/>
<line x1="271.5" y1="2342.7" x2="286.1" y2="2342.7"/>
<line x1="1856.2" y1="2342.7" x2="1841.6" y2="2342.7"/>
<line x1="271.5" y1="2203.9" x2="286.1" y2="2203.9"/>
<line x1="1856.2" y1="2203.9" x2="1841.6" y2="2203.9"/>
</g>
<path d="M270.2 2092.4 L280.1 2093.1 L290.0 2093.8 L300.0 2094.5 L309.9 2095.2 L319.8 2095.9 L329.7 2096.6 L339.6 2097.3 L349.6 2098.1 L359.5 2098.8 L369.4 2099.6 L379.3 2100.4 L389.2 2101.2 L399.2 2102.0 L409.1 2102.9 L419.0 2103.7 L428.9 2104.6 L438.9 2105.5 L448.8 2106.5 L458.7 2107.4 L468.6 2108.4 L478.5 2109.4 L488.5 2110.4 L498.4 2111.5 L508.3 2112.6 L518.2 2113.7 L528.1 2114.9 L538.1 2116.0 L548.0 2117.3 L557.9 2118.5 L567.8 2119.8 L577.7 2121.1 L587.7 2122.4 L597.6 2123.8 L607.5 2125.1 L617.4 2126.5 L627.3 2127.9 L637.3 2129.4 L647.2 2130.9 L657.1 2132.4 L667.0 2133.9 L676.9 2135.5 L686.9 2137.1 L696.8 2138.8 L706.7 2140.5 L716.6 2142.2 L726.5 2144.0 L736.5 2145.8 L746.4 2147.7 L756.3 2149.6 L766.2 2151.6 L776.2 2153.7 L786.1 2155.8 L796.0 2157.9 L805.9 2160.1 L815.8 2162.4 L825.8 2164.7 L835.7 2167.0 L845.6 2169.5 L855.5 2172.0 L865.4 2174.6 L875.4 2177.2 L885.3 2180.0 L895.2 2182.8 L905.1 2185.6 L915.0 2188.5 L925.0 2191.5 L934.9 2194.6 L944.8 2197.7 L954.7 2200.8 L964.6 2204.1 L974.6 2207.4 L984.5 2210.7 L994.4 2214.1 L1004.3 2217.6 L1014.2 2221.2 L1024.2 2224.8 L1034.1 2228.5 L1044.0 2232.3 L1053.9 2236.2 L1063.8 2240.2 L1073.8 2244.2 L1083.7 2248.4 L1093.6 2252.6 L1103.5 2257.0 L1113.5 2261.4 L1123.4 2266.0 L1133.3 2270.7 L1143.2 2275.4 L1153.1 2280.3 L1163.1 2285.3 L1173.0 2290.4 L1182.9 2295.6 L1192.8 2300.9 L1202.7 2306.3 L1212.7 2311.9 L1222.6 2317.6 L1232.5 2323.4 L1242.4 2329.3 L1252.3 2335.4 L1262.3 2341.6 L1272.2 2348.0 L1282.1 2354.5 L1292.0 2361.2 L1301.9 2368.0 L1311.9 2375.0 L1321.8 2382.2 L1331.7 2389.5 L1341.6 2397.0 L1351.5 2404.7 L1361.5 2412.3 L1371.4 2419.9 L1381.3 2427.6 L1391.2 2435.5 L1401.2 2443.7 L1411.1 2452.3 L1421.0 2461.2 L1430.9 2470.3 L1440.8 2479.7 L1450.8 2489.4 L1460.7 2499.4 L1470.6 2509.7 L1480.5 2520.1 L1490.4 2530.7 L1500.4 2541.3 L1510.3 2552.2 L1520.2 2563.7 L1530.1 2575.6 L1540.0 2587.9 L1550.0 2600.3 L1559.9 2612.9 L1569.8 2625.5 L1579.7 2638.6 L1589.6 2652.4 L1599.6 2666.6 L1609.5 2681.2 L1619.4 2696.1 L1629.3 2711.2 L1639.2 2726.2 L1649.2 2741.3 L1659.1 2756.7 L1669.0 2772.3 L1678.9 2788.4 L1688.8 2804.9 L1698.8 2821.8 L1708.7 2839.3 L1718.6 2857.1 L1728.5 2875.4 L1738.5 2894.0 L1748.4 2913.0 L1758.3 2932.4 L1768.2 2951.9 L1778.1 2971.6 L1788.1 2991.5 L1798.0 3011.7 L1807.9 3032.3 L1817.8 3053.5 L1827.7 3075.2 L1837.7 3096.6 L1847.6 3118.1 L1857.5 3141.2" fill="none" stroke="#0000ff" stroke-width="11.2" stroke-linecap="round" stroke-linejoin="round"/>
<path d="M270.2 3141.2 L280.1 3118.0 L290.0 3096.1 L300.0 3074.3 L309.9 3052.1 L319.8 3030.4 L329.7 3009.4 L339.6 2988.8 L349.6 2968.8 L359.5 2949.1 L369.4 2929.8 L379.3 2910.8 L389.2 2892.1 L399.2 2873.8 L409.1 2855.9 L419.0 2838.4 L428.9 2821.3 L438.9 2804.6 L448.8 2788.3 L458.7 2772.3 L468.6 2756.7 L478.5 2741.4 L488.5 2726.5 L498.4 2711.6 L508.3 2696.7 L518.2 2682.1 L528.1 2667.6 L538.1 2653.5 L548.0 2639.9 L557.9 2626.9 L567.8 2614.3 L577.7 2601.7 L587.7 2589.2 L597.6 2576.8 L607.5 2564.8 L617.4 2553.2 L627.3 2542.2 L637.3 2531.4 L647.2 2520.7 L657.1 2510.2 L667.0 2499.8 L676.9 2489.7 L686.9 2479.8 L696.8 2470.4 L706.7 2461.2 L716.6 2452.3 L726.5 2443.6 L736.5 2435.0 L746.4 2426.7 L756.3 2418.5 L766.2 2410.5 L776.2 2402.6 L786.1 2394.9 L796.0 2387.4 L805.9 2380.1 L815.8 2372.9 L825.8 2365.9 L835.7 2359.1 L845.6 2352.4 L855.5 2345.9 L865.4 2339.6 L875.4 2333.3 L885.3 2327.3 L895.2 2321.3 L905.1 2315.5 L915.0 2309.8 L925.0 2304.2 L934.9 2298.8 L944.8 2293.5 L954.7 2288.3 L964.6 2283.2 L974.6 2278.2 L984.5 2273.3 L994.4 2268.6 L1004.3 2263.9 L1014.2 2259.4 L1024.2 2254.9 L1034.1 2250.6 L1044.0 2246.3 L1053.9 2242.1 L1063.8 2238.1 L1073.8 2234.1 L1083.7 2230.2 L1093.6 2226.4 L1103.5 2222.7 L1113.5 2219.1 L1123.4 2215.5 L1133.3 2212.1 L1143.2 2208.7 L1153.1 2205.4 L1163.1 2202.2 L1173.0 2199.1 L1182.9 2196.0 L1192.8 2193.1 L1202.7 2190.2 L1212.7 2187.3 L1222.6 2184.6 L1232.5 2181.9 L1242.4 2179.2 L1252.3 2176.7 L1262.3 2174.2 L1272.2 2171.7 L1282.1 2169.3 L1292.0 2166.9 L1301.9 2164.6 L1311.9 2162.4 L1321.8 2160.1 L1331.7 2157.9 L1341.6 2155.8 L1351.5 2153.7 L1361.5 2151.6 L1371.4 2149.6 L1381.3 2147.7 L1391.2 2145.8 L1401.2 2144.0 L1411.1 2142.2 L1421.0 2140.5 L1430.9 2138.8 L1440.8 2137.1 L1450.8 2135.5 L1460.7 2133.9 L1470.6 2132.4 L1480.5 2130.9 L1490.4 2129.4 L1500.4 2127.9 L1510.3 2126.5 L1520.2 2125.1 L1530.1 2123.8 L1540.0 2122.4 L1550.0 2121.1 L1559.9 2119.8 L1569.8 2118.5 L1579.7 2117.3 L1589.6 2116.0 L1599.6 2114.9 L1609.5 2113.7 L1619.4 2112.6 L1629.3 2111.5 L1639.2 2110.4 L1649.2 2109.4 L1659.1 2108.4 L1669.0 2107.4 L1678.9 2106.5 L1688.8 2105.5 L1698.8 2104.6 L1708.7 2103.7 L1718.6 2102.9 L1728.5 2102.0 L1738.5 2101.2 L1748.4 2100.4 L1758.3 2099.6 L1768.2 2098.8 L1778.1 2098.1 L1788.1 2097.3 L1798.0 2096.6 L1807.9 2095.9 L1817.8 2095.2 L1827.7 2094.5 L1837.7 2093.8 L1847.6 2093.1 L1857.5 2092.4" fill="none" stroke="#ff0000" stroke-width="11.2" stroke-linecap="round" stroke-linejoin="round"/>
<text transform="translate(248.8 3211.9) scale(1 1.04)" font-family='"Liberation Sans", Arial, Helvetica, sans-serif' font-size="58.5" font-weight="bold" fill="#202020" text-anchor="end" >0</text>
<text transform="translate(248.8 3073.0) scale(1 1.04)" font-family='"Liberation Sans", Arial, Helvetica, sans-serif' font-size="58.5" font-weight="bold" fill="#202020" text-anchor="end" >2</text>
<text transform="translate(248.8 2934.2) scale(1 1.04)" font-family='"Liberation Sans", Arial, Helvetica, sans-serif' font-size="58.5" font-weight="bold" fill="#202020" text-anchor="end" >4</text>
<text transform="translate(248.8 2795.3) scale(1 1.04)" font-family='"Liberation Sans", Arial, Helvetica, sans-serif' font-size="58.5" font-weight="bold" fill="#202020" text-anchor="end" >6</text>
<text transform="translate(248.8 2656.5) scale(1 1.04)" font-family='"Liberation Sans", Arial, Helvetica, sans-serif' font-size="58.5" font-weight="bold" fill="#202020" text-anchor="end" >8</text>
<clipPath id="c7" clipPathUnits="userSpaceOnUse"><path d="M-69.07 -58.50 H4.00 V6.00 H-33.39 V-7.90 H-43.22 V6.00 H-51.64 V-7.90 H-69.07 Z"/></clipPath>
<text transform="translate(248.8 2517.6) scale(1 1.04)" font-family='"Liberation Sans", Arial, Helvetica, sans-serif' font-size="58.5" font-weight="bold" fill="#202020" text-anchor="end" clip-path="url(#c7)">10</text>
<clipPath id="c8" clipPathUnits="userSpaceOnUse"><path d="M-69.07 -58.50 H4.00 V6.00 H-33.39 V-7.90 H-43.22 V6.00 H-51.64 V-7.90 H-69.07 Z"/></clipPath>
<text transform="translate(248.8 2378.7) scale(1 1.04)" font-family='"Liberation Sans", Arial, Helvetica, sans-serif' font-size="58.5" font-weight="bold" fill="#202020" text-anchor="end" clip-path="url(#c8)">12</text>
<clipPath id="c9" clipPathUnits="userSpaceOnUse"><path d="M-69.07 -58.50 H4.00 V6.00 H-33.39 V-7.90 H-43.22 V6.00 H-51.64 V-7.90 H-69.07 Z"/></clipPath>
<text transform="translate(248.8 2239.9) scale(1 1.04)" font-family='"Liberation Sans", Arial, Helvetica, sans-serif' font-size="58.5" font-weight="bold" fill="#202020" text-anchor="end" clip-path="url(#c9)">14</text>
<clipPath id="c10" clipPathUnits="userSpaceOnUse"><path d="M-69.07 -58.50 H4.00 V6.00 H-33.39 V-7.90 H-43.22 V6.00 H-51.64 V-7.90 H-69.07 Z"/></clipPath>
<text transform="translate(248.8 2101.0) scale(1 1.04)" font-family='"Liberation Sans", Arial, Helvetica, sans-serif' font-size="58.5" font-weight="bold" fill="#202020" text-anchor="end" clip-path="url(#c10)">16</text>
<text transform="translate(461.7 3270.8) scale(1 1.04)" font-family='"Liberation Sans", Arial, Helvetica, sans-serif' font-size="58.5" font-weight="bold" fill="#202020" text-anchor="start" >0.2</text>
<text transform="translate(674.2 3270.8) scale(1 1.04)" font-family='"Liberation Sans", Arial, Helvetica, sans-serif' font-size="58.5" font-weight="bold" fill="#202020" text-anchor="start" >0.4</text>
<text transform="translate(891.0 3270.8) scale(1 1.04)" font-family='"Liberation Sans", Arial, Helvetica, sans-serif' font-size="58.5" font-weight="bold" fill="#202020" text-anchor="start" >0.6</text>
<text transform="translate(1103.7 3270.8) scale(1 1.04)" font-family='"Liberation Sans", Arial, Helvetica, sans-serif' font-size="58.5" font-weight="bold" fill="#202020" text-anchor="start" >0.8</text>
<clipPath id="c11" clipPathUnits="userSpaceOnUse"><path d="M-4.00 -58.50 H36.53 V6.00 H31.68 V-7.90 H21.85 V6.00 H13.43 V-7.90 H-4.00 Z"/></clipPath>
<text transform="translate(1340.6 3270.8) scale(1 1.04)" font-family='"Liberation Sans", Arial, Helvetica, sans-serif' font-size="58.5" font-weight="bold" fill="#202020" text-anchor="start" clip-path="url(#c11)">1</text>
<clipPath id="c12" clipPathUnits="userSpaceOnUse"><path d="M-4.00 -58.50 H85.32 V6.00 H31.68 V-7.90 H21.85 V6.00 H13.43 V-7.90 H-4.00 Z"/></clipPath>
<text transform="translate(1537.4 3270.8) scale(1 1.04)" font-family='"Liberation Sans", Arial, Helvetica, sans-serif' font-size="58.5" font-weight="bold" fill="#202020" text-anchor="start" clip-path="url(#c12)">1.2</text>
<clipPath id="c13" clipPathUnits="userSpaceOnUse"><path d="M-4.00 -58.50 H85.32 V6.00 H31.68 V-7.90 H21.85 V6.00 H13.43 V-7.90 H-4.00 Z"/></clipPath>
<text transform="translate(1751.0 3270.8) scale(1 1.04)" font-family='"Liberation Sans", Arial, Helvetica, sans-serif' font-size="58.5" font-weight="bold" fill="#202020" text-anchor="start" clip-path="url(#c13)">1.4</text>
<text transform="translate(972.0 3365.0) scale(1 1.011)" font-family='"Liberation Serif", "Times New Roman", Times, serif' font-size="81.7" font-weight="bold" fill="#202020" text-anchor="start" >time(<tspan font-style="italic">s</tspan>)</text>
<text transform="translate(130.8 2921.5) rotate(-90) scale(1 1.011)" font-family='"Liberation Serif", "Times New Roman", Times, serif' font-size="81" font-weight="bold" fill="#000" text-anchor="start" >Memristance(<tspan font-style="italic">k</tspan>Ω)</text>
<text transform="translate(130.0 3610.0) rotate(-90) scale(1 1.011)" font-family='"Liberation Serif", "Times New Roman", Times, serif' font-size="81.5" font-weight="bold" fill="#000" text-anchor="start" >Input(<tspan font-style="italic">V</tspan>)</text>
<text transform="translate(496.5 2437.6) scale(0.97 1.011)" font-family='"Liberation Serif", "Times New Roman", Times, serif' font-size="81" font-weight="bold" fill="#000" text-anchor="start" >M1</text>
<text transform="translate(1596.0 2437.9) scale(0.97 1.011)" font-family='"Liberation Serif", "Times New Roman", Times, serif' font-size="81" font-weight="bold" fill="#000" text-anchor="start" >M2</text>
<path d="M590.4 2358.3 C660 2330 715 2270 748 2185" fill="none" stroke="#000" stroke-width="8.6" stroke-linecap="round"/>
<polygon points="756.2,2141.9 727.0,2190.3 763.0,2197.0" fill="#000"/>
<path d="M1584.2 2409.7 C1500 2370 1430 2290 1396 2195" fill="none" stroke="#000" stroke-width="8.6" stroke-linecap="round"/>
<polygon points="1381.4,2146.7 1378.8,2205.3 1413.3,2195.3" fill="#000"/>
<path d="M187.8 3562 H264 V3420.5 H1857.6 V3562 H1939" fill="none" stroke="#000" stroke-width="7.9" stroke-linecap="round" stroke-linejoin="round"/>
<line x1="1002.5" y1="3430.0" x2="1002.5" y2="3556.0" stroke="#000" stroke-width="7.5"/>
<path d="M1002.5 3420.0 L1021.1 3456.5 Q1011.8 3453.0 1002.5 3453.0 Q993.2 3453.0 983.9 3456.5 Z" fill="#000"/>
<path d="M1002.5 3566.0 L1021.1 3529.5 Q1011.8 3533.0 1002.5 3533.0 Q993.2 3533.0 983.9 3529.5 Z" fill="#000"/>
<text transform="translate(1073.6 3516.0) scale(1 1.011)" font-family='"Liberation Serif", "Times New Roman", Times, serif' font-size="82.3" font-weight="bold" fill="#000" text-anchor="start" >1V</text>
<text font-family='"Liberation Serif", "Times New Roman", Times, serif' fill="#000"><tspan x="940.9" y="3762.6" font-size="86.3">(</tspan><tspan x="967.8" y="3762.7" font-size="90" font-weight="bold">b</tspan><tspan x="1017.2" y="3762.6" font-size="86.3">)</tspan></text>
</svg>
</body></html>
